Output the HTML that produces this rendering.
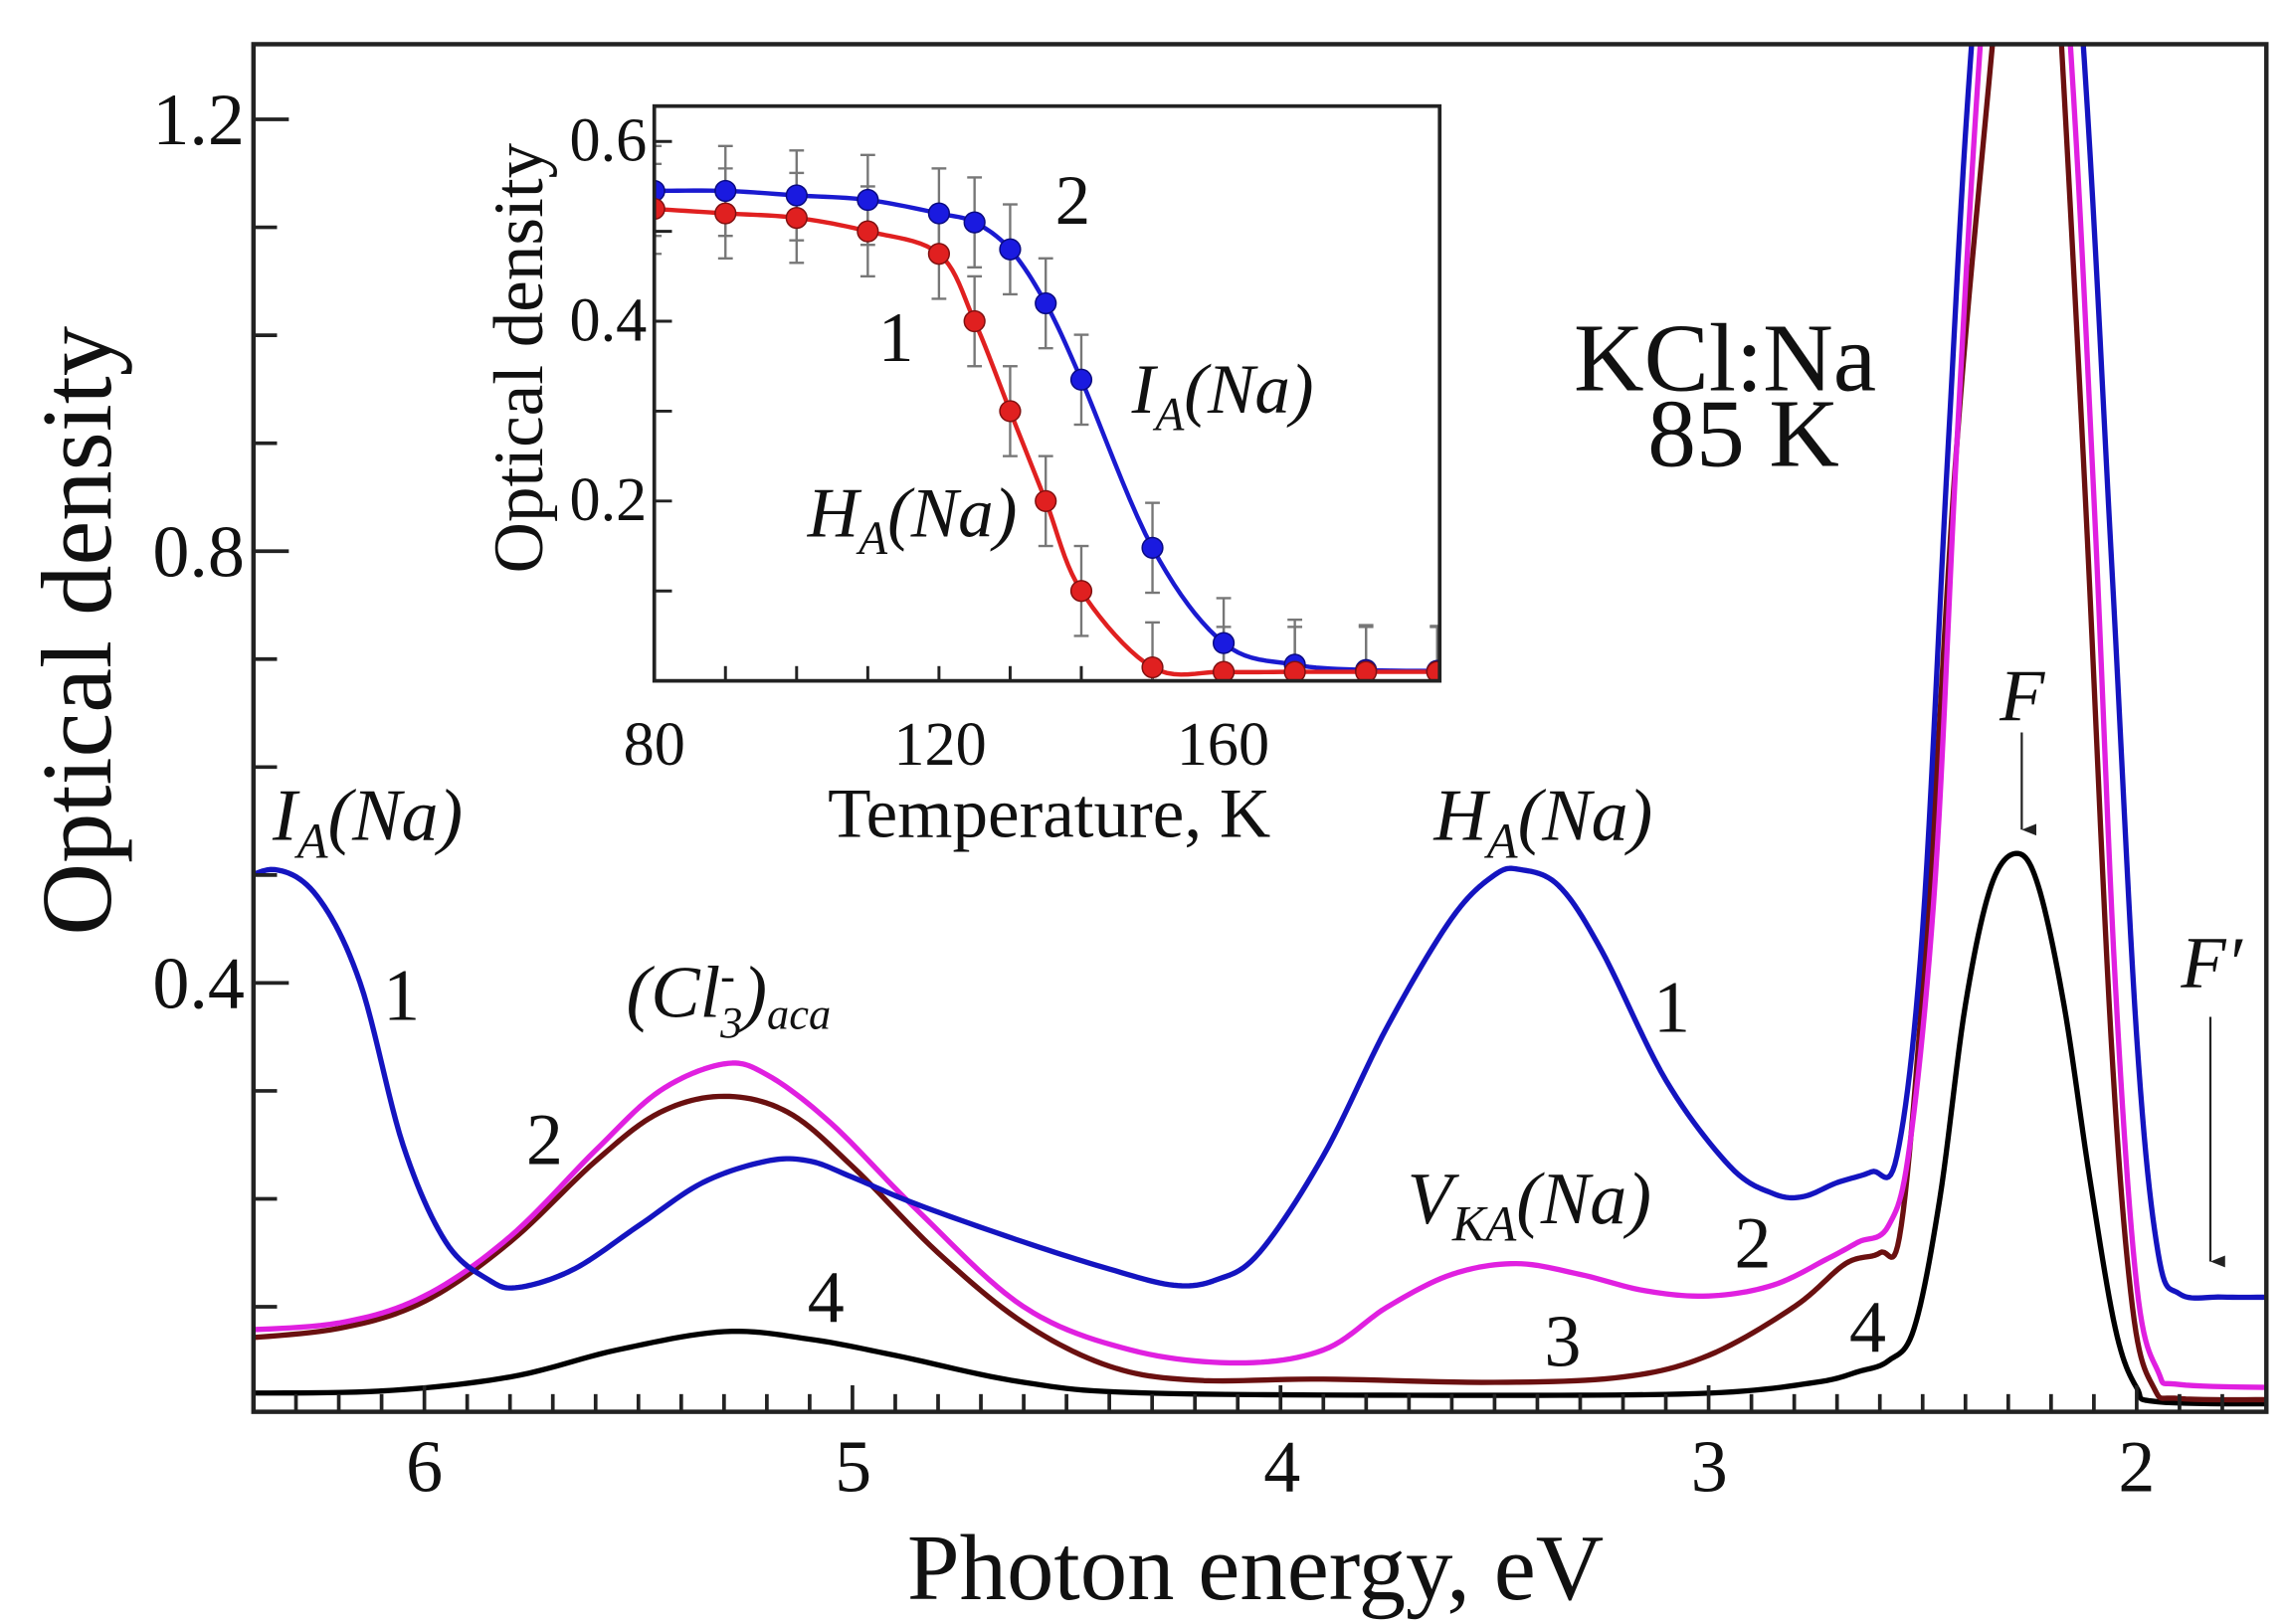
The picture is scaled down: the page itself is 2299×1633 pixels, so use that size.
<!DOCTYPE html>
<html><head><meta charset="utf-8"><style>
html,body{margin:0;padding:0;background:#fff;}
svg{display:block;}
text{font-family:"Liberation Serif",serif;fill:#111;}
.it{font-style:italic;}
</style></head><body>
<svg id="s" width="2299" height="1633" viewBox="0 0 1552 1102" preserveAspectRatio="none" xmlns="http://www.w3.org/2000/svg">
<defs>
<clipPath id="cm"><rect x="172" y="30" width="1366" height="928"/></clipPath>
<clipPath id="ci"><rect x="444" y="72" width="533" height="390"/></clipPath>
<marker id="ar" markerWidth="8" markerHeight="10" refX="4" refY="10" orient="auto" markerUnits="userSpaceOnUse"><path d="M0,0 L4,10 L8,0 Z" fill="#222"/></marker>
</defs>
<g id="main"></g>
<rect x="172" y="30" width="1366" height="928" fill="none" stroke="#222" stroke-width="3"/>
<g id="ins"></g>
<g font-size="50">
<text x="166" y="98" text-anchor="end">1.2</text>
<text x="166" y="391" text-anchor="end">0.8</text>
<text x="166" y="684" text-anchor="end">0.4</text>
<text x="288" y="1012" text-anchor="middle">6</text>
<text x="579" y="1012" text-anchor="middle">5</text>
<text x="870" y="1012" text-anchor="middle">4</text>
<text x="1160" y="1012" text-anchor="middle">3</text>
<text x="1450" y="1012" text-anchor="middle">2</text>
</g>
<text x="852" y="1085" font-size="64" text-anchor="middle">Photon energy, eV</text>
<text transform="translate(75,428) rotate(-90)" font-size="68" text-anchor="middle">Optical density</text>
<text x="1068" y="265" font-size="66">KCl:Na</text>
<text x="1118" y="316" font-size="66">85 K</text>
<g font-size="50">
<text x="185" y="570" class="it">I<tspan font-size="34" dy="12">A</tspan><tspan dy="-12">(Na)</tspan></text>
<text x="260" y="692">1</text>
<text x="425" y="690" class="it">(Cl<tspan font-size="30" dy="-18">-</tspan><tspan font-size="30" dx="-10" dy="32">3</tspan><tspan dy="-14">)</tspan><tspan font-size="30" dy="8">aca</tspan></text>
<text x="357" y="790">2</text>
<text x="548" y="897">4</text>
<text x="973" y="570" class="it">H<tspan font-size="34" dy="12">A</tspan><tspan dy="-12">(Na)</tspan></text>
<text x="1122" y="700">1</text>
<text x="955" y="830" class="it">V<tspan font-size="34" dy="12">KA</tspan><tspan dy="-12">(Na)</tspan></text>
<text x="1177" y="860">2</text>
<text x="1048" y="927">3</text>
<text x="1255" y="917">4</text>
<text x="1357" y="489" class="it">F</text>
<text x="1480" y="670" class="it">F′</text>
</g>
<line x1="1372" y1="497" x2="1372" y2="563" stroke="#222" stroke-width="1.5" marker-end="url(#ar)"/>
<line x1="1500" y1="690" x2="1500" y2="856" stroke="#222" stroke-width="1.5" marker-end="url(#ar)"/>
<rect x="444" y="72" width="533" height="390" fill="none" stroke="#222" stroke-width="2.5"/>
<g font-size="42">
<text x="439" y="109" text-anchor="end">0.6</text>
<text x="439" y="231" text-anchor="end">0.4</text>
<text x="439" y="353" text-anchor="end">0.2</text>
<text x="444" y="519" text-anchor="middle">80</text>
<text x="638" y="519" text-anchor="middle">120</text>
<text x="830" y="519" text-anchor="middle">160</text>
</g>
<text x="712" y="568" font-size="48" text-anchor="middle">Temperature, K</text>
<text transform="translate(368,243) rotate(-90)" font-size="48" text-anchor="middle">Optical density</text>
<g font-size="48">
<text x="716" y="152">2</text>
<text x="596" y="245">1</text>
<text x="768" y="280" class="it">I<tspan font-size="32" dy="12">A</tspan><tspan dy="-12">(Na)</tspan></text>
<text x="548" y="364" class="it">H<tspan font-size="32" dy="12">A</tspan><tspan dy="-12">(Na)</tspan></text>
</g>
</svg>
<script>
var NS="http://www.w3.org/2000/svg";
function el(p,t,a){var e=document.createElementNS(NS,t);for(var k in a)e.setAttribute(k,a[k]);p.appendChild(e);return e;}
function cr(pts,n){var out=[];for(var i=0;i<pts.length-1;i++){var p0=pts[Math.max(0,i-1)],p1=pts[i],p2=pts[i+1],p3=pts[Math.min(pts.length-1,i+2)];
for(var j=0;j<n;j++){var t=j/n,t2=t*t,t3=t2*t;
var f=function(a,b,c,d){return 0.5*((2*b)+(-a+c)*t+(2*a-5*b+4*c-d)*t2+(-a+3*b-3*c+d)*t3);};
out.push([f(p0[0],p1[0],p2[0],p3[0]),f(p0[1],p1[1],p2[1],p3[1])]);}}
out.push(pts[pts.length-1]);return out;}
function path(pts){return "M"+pts.map(function(p){return p[0].toFixed(2)+","+p[1].toFixed(2);}).join(" L");}
var X=function(E){return 288+(6-E)*290.5;},Y=function(v){return 960-732.5*v;};
var m=document.getElementById("main");
var g=el(m,"g",{"clip-path":"url(#cm)"});
var blue=[[6.45,0.49],[6.35,0.505],[6.25,0.48],[6.15,0.40],[6.05,0.25],[5.95,0.16],[5.85,0.125],[5.78,0.118],[5.65,0.135],[5.5,0.175],[5.35,0.215],[5.2,0.235],[5.1,0.235],[5.0,0.22],[4.85,0.195],[4.6,0.16],[4.4,0.135],[4.25,0.12],[4.15,0.125],[4.05,0.15],[3.9,0.24],[3.75,0.36],[3.6,0.46],[3.5,0.5],[3.44,0.505],[3.35,0.49],[3.25,0.43],[3.1,0.31],[2.95,0.23],[2.85,0.205],[2.78,0.202],[2.7,0.215],[2.62,0.225],[2.56,0.24],[2.5,0.45],[2.44,0.9],[2.38,1.3],[2.25,1.9],[2.13,1.3],[2.06,0.8],[2.0,0.35],[1.95,0.15],[1.9,0.112],[1.8,0.109],[1.65,0.109]];
var mag=[[6.45,0.078],[6.2,0.085],[6.0,0.11],[5.8,0.165],[5.6,0.245],[5.45,0.3],[5.3,0.325],[5.2,0.315],[5.05,0.27],[4.85,0.19],[4.6,0.1],[4.35,0.06],[4.1,0.048],[3.9,0.06],[3.75,0.1],[3.6,0.13],[3.45,0.14],[3.3,0.13],[3.15,0.115],[3.0,0.11],[2.85,0.12],[2.72,0.145],[2.65,0.16],[2.58,0.175],[2.53,0.25],[2.47,0.5],[2.42,0.9],[2.36,1.3],[2.26,1.8],[2.16,1.3],[2.1,0.85],[2.05,0.4],[2.0,0.12],[1.95,0.04],[1.9,0.028],[1.65,0.025]];
var brn=[[6.45,0.07],[6.2,0.08],[6.0,0.105],[5.8,0.16],[5.6,0.235],[5.45,0.28],[5.3,0.295],[5.15,0.28],[5.0,0.23],[4.8,0.15],[4.6,0.085],[4.4,0.045],[4.2,0.032],[3.9,0.033],[3.5,0.03],[3.2,0.035],[3.0,0.055],[2.8,0.1],[2.68,0.14],[2.6,0.15],[2.55,0.175],[2.49,0.45],[2.42,0.9],[2.33,1.3],[2.24,1.7],[2.18,1.3],[2.12,0.85],[2.06,0.35],[2.01,0.1],[1.96,0.025],[1.9,0.015],[1.65,0.014]];
var blk=[[6.45,0.02],[6.1,0.022],[5.8,0.035],[5.55,0.06],[5.3,0.077],[5.1,0.07],[4.9,0.055],[4.6,0.03],[4.3,0.02],[3.5,0.018],[3.0,0.02],[2.75,0.03],[2.65,0.04],[2.58,0.05],[2.52,0.08],[2.46,0.2],[2.4,0.38],[2.34,0.49],[2.28,0.52],[2.23,0.49],[2.17,0.38],[2.11,0.22],[2.05,0.08],[2.0,0.025],[1.95,0.012],[1.65,0.01]];
function draw(d,c){var p=d.map(function(q){return [X(q[0]),Y(q[1])];});el(g,"path",{d:path(cr(p,12)),fill:"none",stroke:c,"stroke-width":3.6,"stroke-linejoin":"round"});}
draw(blk,"#000");draw(brn,"#6a1010");draw(mag,"#e020e0");draw(blue,"#1414c0");
for(var i=0;i<=47;i++){var E=6.4-i*0.1;var x=X(E);if(x<173||x>1537)continue;var maj=Math.abs(E-Math.round(E))<0.01;el(m,"line",{x1:x,y1:958,x2:x,y2:958-(maj?18:12),stroke:"#222","stroke-width":2.5});}
for(var i=1;i<=12;i++){var v=i*0.1;var y=Y(v);var maj=(i%4==0);el(m,"line",{x1:172,y1:y,x2:172+(maj?24:16),y2:y,stroke:"#222","stroke-width":2.5});}
var ins=document.getElementById("ins");
el(ins,"rect",{x:444,y:72,width:533,height:390,fill:"#fff"});
var TX=function(T){return 444+(T-80)*4.83;},TY=function(v){return 462-610*v;};
for(var T=80;T<=190;T+=10)el(ins,"line",{x1:TX(T),y1:462,x2:TX(T),y2:452,stroke:"#222","stroke-width":2});
for(var i=1;i<=6;i++)el(ins,"line",{x1:444,y1:TY(i*0.1),x2:456,y2:TY(i*0.1),stroke:"#222","stroke-width":2});
var bT=[[80,0.545],[90,0.545],[100,0.54],[110,0.535],[120,0.52],[125,0.51],[130,0.48],[135,0.42],[140,0.335],[150,0.148],[160,0.042],[170,0.018],[180,0.012],[190,0.011]];
var rT=[[80,0.525],[90,0.52],[100,0.515],[110,0.5],[120,0.475],[125,0.4],[130,0.3],[135,0.2],[140,0.1],[150,0.015],[160,0.01],[170,0.01],[180,0.01],[190,0.01]];
var gi=el(ins,"g",{"clip-path":"url(#ci)"});
function eb(d){d.forEach(function(q){var x=TX(q[0]),y1=TY(q[1]+0.05),y2=TY(q[1]-0.05);
el(gi,"line",{x1:x,y1:y1,x2:x,y2:y2,stroke:"#777","stroke-width":1.6});
el(gi,"line",{x1:x-5,y1:y1,x2:x+5,y2:y1,stroke:"#777","stroke-width":1.6});
el(gi,"line",{x1:x-5,y1:y2,x2:x+5,y2:y2,stroke:"#777","stroke-width":1.6});});}
eb(bT);eb(rT);
function fitline(d,c){var p=d.map(function(q){return [TX(q[0]),TY(q[1])];});el(gi,"path",{d:path(cr(p,10)),fill:"none",stroke:c,"stroke-width":3});}
fitline(bT,"#1a1ad0");fitline(rT,"#e02020");
function dots(d,c,s){d.forEach(function(q){el(gi,"circle",{cx:TX(q[0]),cy:TY(q[1]),r:7,fill:c,stroke:s,"stroke-width":1});});}
dots(bT,"#1a1ae0","#0a0a80");dots(rT,"#e02020","#801010");
</script>
</body></html>
